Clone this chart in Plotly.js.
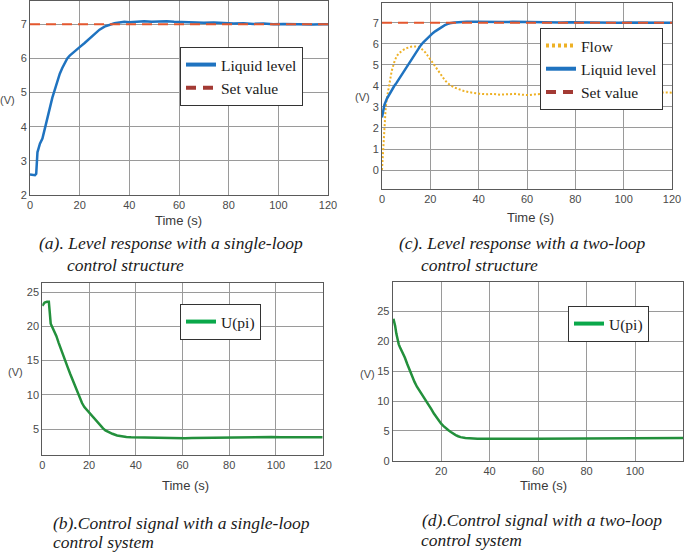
<!DOCTYPE html>
<html>
<head>
<meta charset="utf-8">
<script src="https://cdn.plot.ly/plotly-3.0.1.min.js"></script>
<style>html,body{margin:0;padding:0;background:#fff;}#chart{width:685px;height:552px;}</style>
</head>
<body>
<div id="chart"></div>
<script>
// ---------- Data ----------
// (a) single-loop level response
const tA = [0,1,2,2.5,3,4,5,6,7,8,9,10,11,12,13,14,15,16,17,18,19,20,22,24,26,28,30,32,34,36,38,40,43,46,49,52,55,58,61,64,67,70,74,78,82,86,90,94,98,102,106,110,114,118,120];
const levelA = [2.60,2.60,2.58,2.62,3.25,3.50,3.65,3.95,4.30,4.55,4.85,5.10,5.35,5.55,5.72,5.88,6.00,6.08,6.15,6.22,6.28,6.33,6.45,6.58,6.72,6.84,6.93,6.99,7.03,7.05,7.07,7.06,7.08,7.09,7.07,7.08,7.09,7.07,7.06,7.07,7.05,7.04,7.05,7.03,7.02,7.03,7.01,7.02,7.00,7.01,7.00,7.01,6.99,7.00,7.00];
const tSet = [0,120];
const setValue = [7,7];

// (c) two-loop level response and flow
const tC = [0,0.5,1,2,3,4,5,6,7,8,9,10,11,12,13,14,15,16,17,18,19,20,21,22,23,24,25,26,27,28,30,32,35,38,41,44,47,50,54,58,62,66,70,74,78,82,86,90,94,98,102,106,110,114,118,120];
const levelC = [2.50,2.80,3.10,3.38,3.60,3.80,3.98,4.14,4.32,4.50,4.68,4.88,5.06,5.24,5.42,5.60,5.76,5.92,6.06,6.18,6.30,6.40,6.50,6.59,6.67,6.75,6.82,6.88,6.93,6.97,7.01,7.03,7.04,7.05,7.04,7.05,7.04,7.03,7.04,7.03,7.02,7.03,7.02,7.01,7.02,7.01,7.02,7.00,7.01,7.00,7.01,7.00,7.00,7.01,7.00,7.00];
const tFlow = [0,0.3,0.6,1,1.5,2,2.5,3,4,5,6,7,8,9,10,11,12,13,14,15,16,17,18,19,20,21,22,23,24,25,26,27,28,30,32,34,36,38,40,43,46,49,52,55,58,61,64,67,70,74,78,82,86,90,94,98,102,106,110,114,118,120];
const flowC = [0,0.6,1.3,2.2,2.9,3.4,3.75,4.1,4.7,5.1,5.4,5.55,5.65,5.72,5.78,5.83,5.86,5.87,5.87,5.86,5.80,5.70,5.58,5.42,5.25,5.08,4.90,4.72,4.55,4.40,4.27,4.15,4.05,3.92,3.82,3.75,3.70,3.66,3.63,3.60,3.62,3.58,3.60,3.62,3.58,3.56,3.60,3.62,3.63,3.65,3.68,3.66,3.64,3.63,3.65,3.62,3.60,3.66,3.68,3.70,3.69,3.67];

// (b) single-loop control signal
const tB = [0,0.5,1,2,2.8,3.2,3.6,4,5,6,7,8,9,10,11,12,13,14,15,16,17,18,19,20,21,22,23,24,25,26,27,28,30,32,34,36,38,40,43,46,49,52,55,58,61,64,67,70,74,78,82,86,90,94,98,102,106,110,114,118,120];
const uB = [23.0,23.2,23.5,23.6,23.6,22.0,20.4,20.1,19.4,18.6,17.6,16.6,15.6,14.8,13.9,13.0,12.1,11.2,10.3,9.5,8.8,8.2,7.8,7.5,7.1,6.7,6.2,5.8,5.4,5.1,4.8,4.6,4.3,4.05,3.9,3.82,3.78,3.76,3.75,3.72,3.70,3.68,3.65,3.66,3.64,3.68,3.70,3.72,3.74,3.75,3.80,3.78,3.76,3.80,3.82,3.80,3.78,3.80,3.82,3.80,3.80];

// (d) two-loop control signal
const tD = [0.3,0.6,1,1.5,2,2.5,3,4,5,6,7,8,9,10,11,12,13,14,15,16,17,18,19,20,21,22,23,24,25,26,27,28,30,32,35,38,41,44,47,50,53,56,59,62,65,68,71,74,77,80,84,88,92,96,100,104,108,112,116,120];
const uD = [23.8,23.4,22.6,21.3,20.2,19.5,19.0,18.2,17.3,16.2,15.1,14.1,13.2,12.4,11.8,11.2,10.6,10.0,9.3,8.6,7.9,7.3,6.7,6.2,5.8,5.4,5.1,4.8,4.5,4.3,4.1,3.95,3.8,3.72,3.68,3.66,3.64,3.65,3.63,3.66,3.68,3.66,3.67,3.68,3.66,3.70,3.72,3.70,3.73,3.75,3.74,3.76,3.78,3.76,3.79,3.80,3.86,3.82,3.80,3.82];

// tick labels
const tickTimeFull = [0,20,40,60,80,100,120];
const tickTimeD = [20,40,60,80,100];
const ticksA = [2,3,4,5,6,7];
const ticksC = [0,1,2,3,4,5,6,7];
const ticksB = [5,10,15,20,25];
const ticksD = [0,5,10,15,20,25];

// ---------- Styles ----------
const BLUE = '#1f73c0', SETPLOT = '#e4572e', SETLEG = '#a33a34', FLOW = '#eeb125', GREENPLOT = '#23903c', GREENLEG = '#0aa84a';
const SERIF = 'Liberation Serif, Times New Roman, serif';
const SANS = 'Liberation Sans, Arial, sans-serif';
const legFont = {family:SERIF, size:15.5, color:'#1a1a1a'};

function lg(name, color, width, dash, legend){
  return {x:[null], y:[null], type:'scatter', mode:'lines', name:name, showlegend:true, legend:legend,
          line:{color:color, width:width, dash:dash}, hoverinfo:'skip'};
}

const traces = [
  // (a)
  {x:tA, y:levelA, xaxis:'x', yaxis:'y', type:'scatter', mode:'lines', line:{color:BLUE, width:2.5}, showlegend:false},
  {x:tSet, y:setValue, xaxis:'x', yaxis:'y', type:'scatter', mode:'lines', line:{color:SETPLOT, width:2, dash:'10px,6px'}, showlegend:false},
  Object.assign(lg('Liquid level', BLUE, 4, 'solid', 'legend'), {xaxis:'x', yaxis:'y'}),
  Object.assign(lg('Set value', SETLEG, 4, '10px,7px', 'legend'), {xaxis:'x', yaxis:'y'}),
  // (c)
  {x:tFlow, y:flowC, xaxis:'x2', yaxis:'y2', type:'scatter', mode:'lines', line:{color:FLOW, width:2, dash:'2px,2px'}, showlegend:false},
  {x:tC, y:levelC, xaxis:'x2', yaxis:'y2', type:'scatter', mode:'lines', line:{color:BLUE, width:2.5}, showlegend:false},
  {x:tSet, y:setValue, xaxis:'x2', yaxis:'y2', type:'scatter', mode:'lines', line:{color:SETPLOT, width:2, dash:'10px,6px'}, showlegend:false},
  Object.assign(lg('Flow', FLOW, 4, '3px,3px', 'legend2'), {xaxis:'x2', yaxis:'y2'}),
  Object.assign(lg('Liquid level', BLUE, 4, 'solid', 'legend2'), {xaxis:'x2', yaxis:'y2'}),
  Object.assign(lg('Set value', SETLEG, 4, '10px,7px', 'legend2'), {xaxis:'x2', yaxis:'y2'}),
  // (b)
  {x:tB, y:uB, xaxis:'x3', yaxis:'y3', type:'scatter', mode:'lines', line:{color:GREENPLOT, width:2.5}, showlegend:false},
  Object.assign(lg('U(pi)', GREENLEG, 4, 'solid', 'legend3'), {xaxis:'x3', yaxis:'y3'}),
  // (d)
  {x:tD, y:uD, xaxis:'x4', yaxis:'y4', type:'scatter', mode:'lines', line:{color:GREENPLOT, width:2.5}, showlegend:false},
  Object.assign(lg('U(pi)', GREENLEG, 4, 'solid', 'legend4'), {xaxis:'x4', yaxis:'y4'})
];

const W = 685, H = 552;
const px = v => v / W, py = v => 1 - v / H;

const tickFont = {family:SANS, size:11, color:'#4a4a4a'};
function ax(domain, range, tickvals, anchor){
  return {domain:domain, range:range, tickvals:tickvals, ticktext:tickvals.map(String), anchor:anchor,
          showgrid:true, gridcolor:'#9a9a9a', gridwidth:1, zeroline:false,
          showline:true, linecolor:'#5a5a5a', linewidth:1, mirror:true, ticks:'',
          tickfont:tickFont, fixedrange:true};
}

const legBase = {xanchor:'left', yanchor:'top', bgcolor:'#fff', bordercolor:'#333', borderwidth:1, font:legFont, tracegroupgap:0};
const layout = {
  width:W, height:H, margin:{l:0,r:0,t:0,b:0}, paper_bgcolor:'#fff', plot_bgcolor:'#fff',
  showlegend:true,
  xaxis: ax([px(30), px(328)], [0,120], tickTimeFull, 'y'),
  yaxis: ax([py(195), py(1)], [2,7.68], ticksA, 'x'),
  xaxis2: ax([px(382), px(672)], [0,120], tickTimeFull, 'y2'),
  yaxis2: ax([py(189), py(2.7)], [-0.9,7.95], ticksC, 'x2'),
  xaxis3: ax([px(42.3), px(322.7)], [0,120], tickTimeFull, 'y3'),
  yaxis3: ax([py(455), py(283.3)], [1.2,26.3], ticksB, 'x3'),
  xaxis4: ax([px(392.7), px(683)], [0,119.8], tickTimeD, 'y4'),
  yaxis4: ax([py(460.7), py(282.3)], [0,29.9], ticksD, 'x4'),
  legend: Object.assign({x:px(180), y:py(47)}, legBase),
  legend2: Object.assign({x:px(540), y:py(28)}, legBase),
  legend3: Object.assign({x:px(180), y:py(304)}, legBase),
  legend4: Object.assign({x:px(568), y:py(306)}, legBase),
  annotations: []
};

const titleFont = {family:SANS, size:13, color:'#3a3a3a'};
const vFont = {family:SANS, size:11, color:'#4a4a4a'};
const capFont = {family:SERIF, size:17.5, color:'#1a1a1a', style:'italic'};
function ann(text, x, y, font, xanchor){
  layout.annotations.push({text:text, x:px(x), y:py(y), xref:'paper', yref:'paper', xanchor:xanchor||'center', yanchor:'middle', showarrow:false, font:font});
}
// axis titles
ann('Time (s)', 178, 220, titleFont);
ann('Time (s)', 530, 217, titleFont);
ann('Time (s)', 185, 485.7, titleFont);
ann('Time (s)', 543, 485.7, titleFont);
ann('(V)', 7, 100, vFont);
ann('(V)', 362, 97, vFont);
ann('(V)', 15, 372, vFont);
ann('(V)', 367, 374, vFont);
// captions
ann('(a). Level response with a single-loop', 37, 243, capFont, 'left');
ann('control structure', 65, 265.3, capFont, 'left');
ann('(c). Level response with a two-loop', 396.7, 243, capFont, 'left');
ann('control structure', 419.3, 264.7, capFont, 'left');
ann('(b).Control signal with a single-loop', 50.7, 523, capFont, 'left');
ann('control system', 50.7, 541.5, capFont, 'left');
ann('(d).Control signal with a two-loop', 420, 519.7, capFont, 'left');
ann('control system', 419.3, 540.3, capFont, 'left');

Plotly.newPlot('chart', traces, layout, {staticPlot:true, displayModeBar:false});
</script>
</body>
</html>
